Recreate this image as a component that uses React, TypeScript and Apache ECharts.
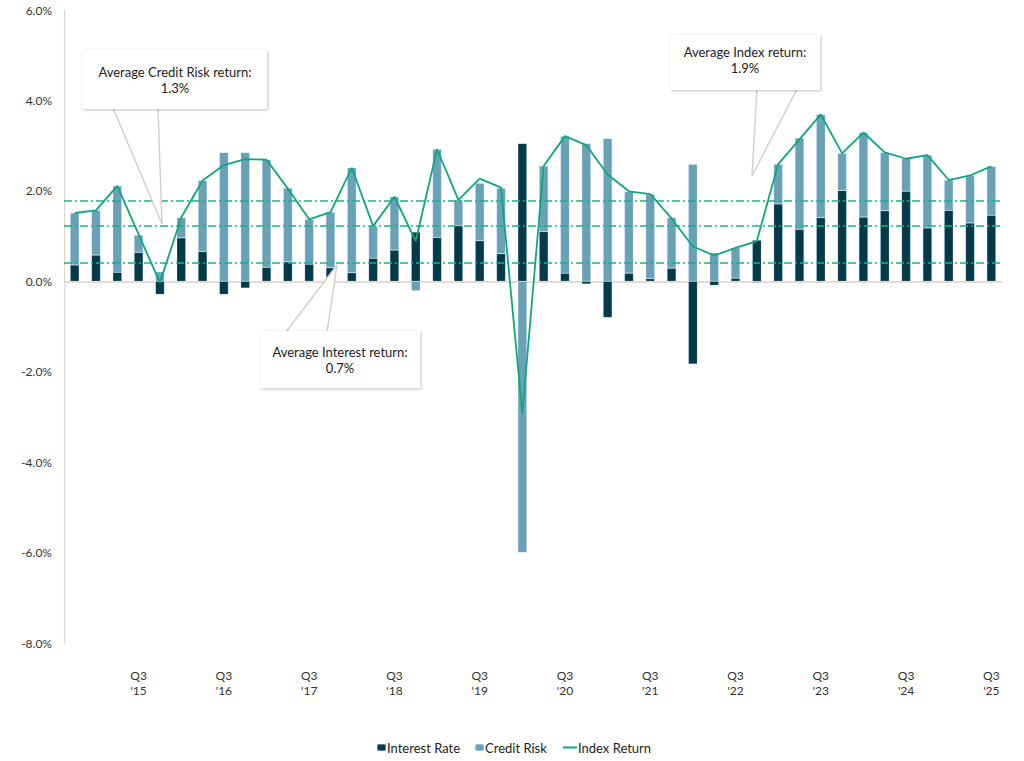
import React, { useEffect, useRef } from "react";
import * as echarts from "echarts";

const quarters: string[] = [];
{
  const qs = ["Q1", "Q2", "Q3", "Q4"];
  let y = 14, q = 3;
  for (let i = 0; i < 44; i++) {
    quarters.push(qs[q] + " '" + String(y).padStart(2, "0"));
    q++;
    if (q > 3) { q = 0; y++; }
  }
}

const interestRate = [0.36, 0.58, 0.2, 0.64, -0.29, 0.96, 0.66, -0.29, -0.15, 0.31, 0.43, 0.38, 0.3, 0.19, 0.51, 0.69, 1.09, 0.97, 1.23, 0.9, 0.61, 3.05, 1.1, 0.18, -0.06, -0.8, 0.18, 0.06, 0.29, -1.83, -0.09, 0.07, 0.91, 1.71, 1.15, 1.41, 2.01, 1.42, 1.56, 1.99, 1.18, 1.57, 1.29, 1.46];
const creditRisk = [1.15, 0.99, 1.91, 0.38, 0.21, 0.45, 1.57, 2.85, 2.85, 2.38, 1.63, 0.99, 1.23, 2.32, 0.71, 1.18, -0.21, 1.95, 0.57, 1.27, 1.45, -6.0, 1.45, 3.03, 3.05, 3.16, 1.8, 1.87, 1.12, 2.59, 0.63, 0.67, -0.03, 0.88, 2.02, 2.28, 0.82, 1.87, 1.29, 0.72, 1.61, 0.67, 1.05, 1.08];
const indexReturn = [1.51, 1.57, 2.11, 1.04, -0.03, 1.41, 2.23, 2.57, 2.7, 2.69, 2.05, 1.37, 1.53, 2.51, 1.22, 1.87, 0.89, 2.92, 1.8, 2.27, 2.07, -2.92, 2.55, 3.21, 3.01, 2.36, 1.99, 1.93, 1.39, 0.77, 0.57, 0.74, 0.89, 2.59, 3.14, 3.69, 2.83, 3.29, 2.85, 2.71, 2.79, 2.24, 2.34, 2.54];
const averageLines = [1.78, 1.22, 0.4];

const FONT = "Lato, 'Noto Sans', sans-serif";
const DARK = "#023a4b";
const LIGHT = "#68a1b8";
const GREEN = "#10a67d";
const DASH = "#17b188";

function callout(rect: number[], tri: number[][], lines: string[], tx: number, ty: number) {
  return [
    {
      type: "polygon",
      z: 10,
      shape: { points: tri },
      style: { fill: "#fff", stroke: "#d6d1cc", lineWidth: 1.5 },
    },
    {
      type: "rect",
      z: 11,
      shape: { x: rect[0], y: rect[1], width: rect[2], height: rect[3] },
      style: {
        fill: "#fff",
        shadowBlur: 3,
        shadowColor: "rgba(0,0,0,0.25)",
        shadowOffsetX: 1,
        shadowOffsetY: 1,
      },
    },
    {
      type: "text",
      z: 12,
      x: tx,
      y: ty,
      style: {
        text: lines.join("\n"),
        fill: "#222",
        font: "13px " + FONT,
        lineHeight: 16,
        align: "center",
        verticalAlign: "middle",
      },
    },
  ];
}

export default function App() {
  const ref = useRef<HTMLDivElement>(null);
  useEffect(() => {
    if (!ref.current) return;
    const chart = echarts.init(ref.current, undefined, { renderer: "svg" });
    const legendText = { color: "#222", fontSize: 13, fontFamily: FONT, padding: [0, 0, 0, -4] };
    chart.setOption({
      animation: false,
      textStyle: { fontFamily: FONT },
      grid: { left: 64, right: 22, top: 10, bottom: 118 },
      legend: [
        {
          data: ["Interest Rate", "Credit Risk"],
          left: 376,
          top: 741,
          padding: 0,
          itemWidth: 9,
          itemHeight: 7,
          itemGap: 14,
          textStyle: legendText,
        },
        {
          data: [{ name: "Index Return", icon: "path://M0,0h14v2h-14z" }],
          left: 563,
          top: 741,
          padding: 0,
          itemWidth: 14,
          itemHeight: 2,
          textStyle: legendText,
        },
      ],
      xAxis: {
        type: "category",
        data: quarters,
        axisLine: { show: false },
        axisTick: { show: false },
        axisLabel: {
          interval: (i: number) => i % 4 === 3,
          formatter: (v: string) => v.replace(" ", "\n"),
          color: "#333",
          fontSize: 12,
          lineHeight: 15,
          margin: 25,
          fontFamily: FONT,
        },
      },
      yAxis: {
        type: "value",
        min: -8,
        max: 6,
        interval: 2,
        axisLine: { show: true, lineStyle: { color: "#dcd3cb", width: 1.2 } },
        axisTick: { show: false },
        splitLine: { show: false },
        axisLabel: {
          formatter: (v: number) => v.toFixed(1) + "%",
          color: "#333",
          fontSize: 12,
          margin: 12,
          fontFamily: FONT,
        },
      },
      series: [
        {
          name: "Interest Rate",
          type: "bar",
          stack: "ret",
          barWidth: 9,
          data: interestRate,
          itemStyle: { color: DARK, borderColor: "rgba(255,255,255,0.35)", borderWidth: 0.5 },
          markLine: {
            silent: true,
            symbol: "none",
            label: { show: false },
            lineStyle: { color: "#d8d1ca", type: "solid", width: 1.5 },
            data: [{ yAxis: 0 }],
            z: 1,
          },
        },
        {
          name: "Credit Risk",
          type: "bar",
          stack: "ret",
          barWidth: 9,
          data: creditRisk,
          itemStyle: { color: LIGHT, borderColor: "rgba(255,255,255,0.35)", borderWidth: 0.5 },
        },
        {
          name: "Index Return",
          type: "line",
          data: indexReturn,
          symbol: "none",
          z: 5,
          lineStyle: { color: GREEN, width: 1.8 },
          itemStyle: { color: GREEN },
          markLine: {
            silent: true,
            symbol: "none",
            label: { show: false },
            lineStyle: { color: DASH, type: [8, 3, 2, 3], width: 1.5 },
            data: averageLines.map((v) => ({ yAxis: v })),
          },
        },
      ],
      graphic: [
        ...callout([82, 50, 185, 59], [[113, 108], [162, 224], [158, 108]], ["Average Credit Risk return:", "1.3%"], 175, 80),
        ...callout([260, 331, 160, 57], [[286, 332], [337, 265], [327, 332]], ["Average Interest return:", "0.7%"], 340, 360),
        ...callout([670, 35, 150, 55], [[757, 89], [752, 176], [797, 89]], ["Average Index return:", "1.9%"], 745, 60),
      ],
    });
    return () => chart.dispose();
  }, []);
  return <div ref={ref} style={{ width: 1024, height: 761, position: "absolute", left: 0, top: 0 }} />;
}
